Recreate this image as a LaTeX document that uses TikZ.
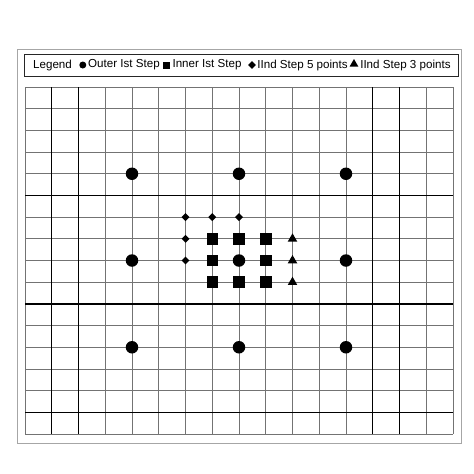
\documentclass[tikz,border=0pt]{standalone}
\usepackage{fontspec}
\setmainfont{Liberation Sans}
\usetikzlibrary{shapes.geometric}
\usetikzlibrary{positioning}

\tikzset{
  gridline/.style={draw=black!55, line width=0.9pt},
  majorline/.style={draw=black, line width=1.3pt},
  outerpt/.style={circle, fill=black, inner sep=0pt, minimum size=12.5pt},
  innerpt/.style={rectangle, fill=black, inner sep=0pt, minimum size=11.5pt},
  fivept/.style={diamond, fill=black, inner sep=0pt, minimum size=8pt},
  threept/.style={regular polygon, regular polygon sides=3, fill=black, inner sep=0pt, minimum size=11pt},
  legtext/.style={inner sep=0pt, font=\fontsize{11.6}{13}\selectfont},
  legouter/.style={circle, fill=black, inner sep=0pt, minimum size=7pt},
  leginner/.style={rectangle, fill=black, inner sep=0pt, minimum size=7pt},
  legfive/.style={diamond, fill=black, inner sep=0pt, minimum size=8pt},
  legthree/.style={regular polygon, regular polygon sides=3, fill=black, inner sep=0pt, minimum size=10pt}
}

\begin{document}
\begin{tikzpicture}[x=1pt, y=-1pt]

            \useasboundingbox (0,0) rectangle (474,474);
            %\draw [help lines] (0,0) grid (474,474);

            % frame and legend box
            \draw[black!35, line width=0.9pt] (17,49) rectangle (461,443);
            \draw[black!85, line width=0.9pt] (24,54) rectangle (458,76);

            \node[legtext, anchor=west] (leg) at (33,65) {Legend};
            \node[legouter, right=7pt of leg] (lego) {};
            \node[legtext, right=1.5pt of lego] (legotxt) {Outer Ist Step};
            \node[leginner, right=2.5pt of legotxt] (legi) {};
            \node[legtext, right=2.5pt of legi] (legitxt) {Inner Ist Step};
            \node[legfive, right=6pt of legitxt] (legf) {};
            \node[legtext, right=1pt of legf] (legftxt) {IInd Step 5 points};
            \node[legthree, right=3pt of legftxt, yshift=1pt] (legt) {};
            \node[legtext, right=3pt of legt, yshift=-1pt] (legttxt) {IInd Step 3 points};

            \begin{scope}[shift={(25,87)}, x=26.75pt, y=-21.69pt]
                % grid
                \foreach \i in {0,...,16} {
                    \draw[gridline] (\i,0) -- (\i,16);
                    \draw[gridline] (0,\i) -- (16,\i);
                }
                \foreach \i in {1,2,13,14}
                    \draw[majorline] (\i,0) -- (\i,16);
                \foreach \j in {5,10,15}
                    \draw[majorline] (0,\j) -- (16,\j);

                % outer first step
                \foreach \i in {4,8,12}
                    \foreach \j in {4,8,12}
                        \node[outerpt] (o-\i-\j) at (\i,\j) {};

                % inner first step
                \foreach \i/\j in {7/7,8/7,9/7,7/8,9/8,7/9,8/9,9/9}
                    \node[innerpt] (s-\i-\j) at (\i,\j) {};

                % second step, 5 points
                \foreach \i/\j in {6/6,7/6,8/6,6/7,6/8}
                    \node[fivept] (f-\i-\j) at (\i,\j) {};

                % second step, 3 points
                \foreach \j in {7,8,9}
                    \node[threept] (t-10-\j) at (10,\j) {};
            \end{scope}

        \end{tikzpicture}
\end{document}
